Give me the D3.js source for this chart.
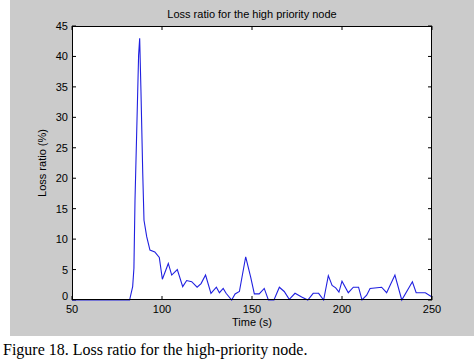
<!DOCTYPE html>
<html><head><meta charset="utf-8">
<script src="https://cdn.jsdelivr.net/npm/d3@7"></script>
<style>body{margin:0;background:#fff}svg{display:block}</style>
</head><body>
<svg id="c" width="474" height="361"></svg>
<script>
const times = [50,82,83.7,84.4,85,86.5,87,87.6,88.3,89.3,90,91.5,93.3,96,98.5,100.2,103.5,105.4,108.5,111.5,113.7,116.5,119.5,121.7,124.2,127.2,130.2,131.9,134,135.6,138.7,140.6,143,146.5,149.3,151.3,154,156.8,159.1,162.2,165.2,167.9,170.7,173.9,177.6,181,184,187,189.8,192.4,194.5,196.5,198.3,200,203.5,206.3,209.2,211.1,213.7,215.6,222,224.8,229.4,233.2,239.1,241.2,246.3,250];
const lossRatio = [0,0,2.2,5.2,16.4,34.2,40.2,43,34.5,20.8,13.1,10.4,8.2,7.9,7,3.4,6.0,4.1,5.0,2.2,3.2,3.0,2.1,2.7,4.1,1.1,2.1,1.2,1.9,1.1,0,1,1.4,7.1,3.7,1,1,1.9,0,0,2.1,1.4,0.1,1.1,0.5,0,1.1,1.1,0,4,2.4,2.0,1.3,3.1,1.2,2.1,2.1,0,0.8,1.9,2.1,1.2,4.1,0,3,1.2,1.2,0.5];
const xTicks = [50,100,150,200,250];
const yTicks = [0,5,10,15,20,25,30,35,40,45];
const title = "Loss ratio for the high priority node";
const xLabel = "Time (s)";
const yLabel = "Loss ratio (%)";
const caption = "Figure 18. Loss ratio for the high-priority node.";

const svg = d3.select("#c");
const L = 72, R = 432, T = 26, B = 300;
const x = d3.scaleLinear().domain([50,250]).range([L,R]);
const y = d3.scaleLinear().domain([0,45]).range([B,T]);

svg.append("rect").attr("x",10).attr("y",0).attr("width",464).attr("height",336).attr("fill","#cbcbcb");
svg.append("rect").attr("x",L).attr("y",T).attr("width",R-L).attr("height",B-T).attr("fill","#fff");

const font = "'Liberation Sans', Arial, sans-serif";
const tl = 4;
// inward ticks
const g = svg.append("g");
xTicks.forEach(v=>{
  g.append("line").attr("x1",x(v)).attr("x2",x(v)).attr("y1",B).attr("y2",B-tl).attr("stroke","#000");
  g.append("line").attr("x1",x(v)).attr("x2",x(v)).attr("y1",T).attr("y2",T+tl).attr("stroke","#000");
  g.append("text").attr("x",x(v)).attr("y",313).attr("text-anchor","middle").attr("font-family",font).attr("font-size",11).text(v);
});
yTicks.forEach(v=>{
  g.append("line").attr("x1",L).attr("x2",L+tl).attr("y1",y(v)).attr("y2",y(v)).attr("stroke","#000");
  g.append("line").attr("x1",R).attr("x2",R-tl).attr("y1",y(v)).attr("y2",y(v)).attr("stroke","#000");
  g.append("text").attr("x",68).attr("y",y(v)+(v===0?0:4)).attr("text-anchor","end").attr("font-family",font).attr("font-size",11).text(v);
});

const line = d3.line().x((d,i)=>x(times[i])).y(d=>y(d));
svg.append("path").datum(lossRatio).attr("d",line).attr("fill","none").attr("stroke","#2020e0").attr("stroke-width",1.1);

svg.append("rect").attr("x",L+0.5).attr("y",T+0.5).attr("width",R-L-1).attr("height",B-T-1).attr("fill","none").attr("stroke","#000").attr("stroke-width",1);

svg.append("text").attr("x",(L+R)/2).attr("y",18).attr("text-anchor","middle").attr("font-family",font).attr("font-size",11).text(title);
svg.append("text").attr("x",(L+R)/2).attr("y",326).attr("text-anchor","middle").attr("font-family",font).attr("font-size",11).text(xLabel);
svg.append("text").attr("transform",`translate(46,${(T+B)/2}) rotate(-90)`).attr("text-anchor","middle").attr("font-family",font).attr("font-size",11).text(yLabel);
svg.append("text").attr("x",3).attr("y",355).attr("font-family","'Liberation Serif','Times New Roman',serif").attr("font-size",16).text(caption);
</script>
</body></html>
